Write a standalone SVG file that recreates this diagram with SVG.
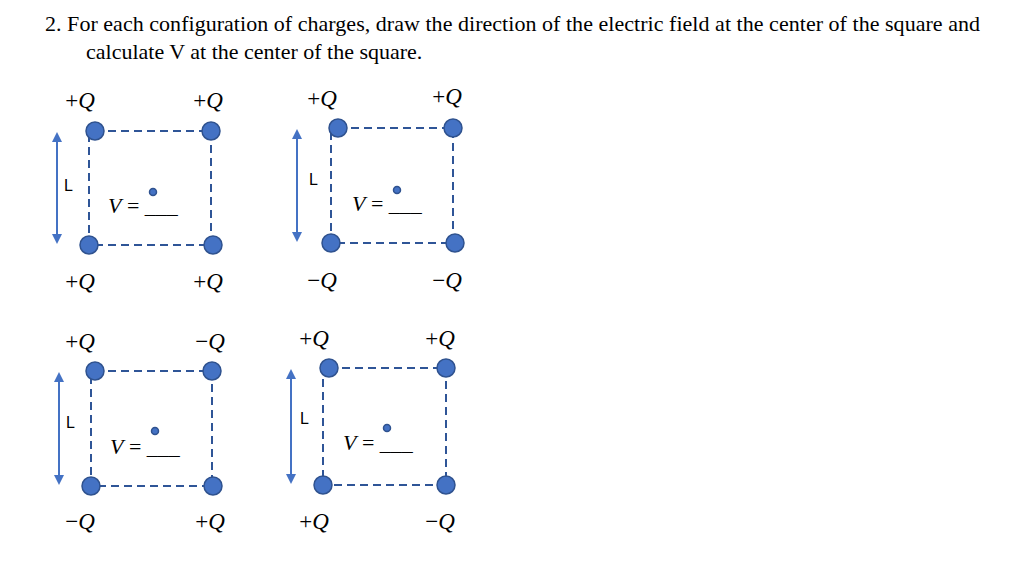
<svg xmlns="http://www.w3.org/2000/svg" width="1024" height="582" viewBox="0 0 1024 582">
<defs>
<style>
.t{font-family:"Liberation Serif",serif;font-size:22px;fill:#000}
.v{font-family:"Liberation Serif",serif;font-size:22px;fill:#000}
.q{font-family:"Liberation Serif",serif;font-size:23px;fill:#000;text-anchor:middle}
.l{font-family:"Liberation Sans",sans-serif;font-size:16px;fill:#000}
.d{stroke:#2F5597;stroke-width:2;stroke-dasharray:8,5;fill:none}
.c{fill:#4472C4;stroke:#2F528F;stroke-width:1.5}
.a{stroke:#4472C4;stroke-width:2;marker-start:url(#m);marker-end:url(#m)}
</style>
<marker id="m" viewBox="0 0 10 10" refX="5" refY="5" markerWidth="5" markerHeight="5" orient="auto-start-reverse"><path d="M0,0L10,5L0,10z" fill="#4472C4"/></marker>
</defs>
<rect width="1024" height="582" fill="#fff"/>
<text class="t" x="45" y="31" textLength="935">2.  For each configuration of charges, draw the direction of the electric field at the center of the square and</text>
<text class="t" x="86" y="59">calculate V at the center of the square.</text>
<g id="connectors">
<path class="d" d="M95,131H211V245H89V131"/>
<path class="d" d="M338,128H453V243H331V128"/>
<path class="d" d="M95,371H212V486H91V371"/>
<path class="d" d="M329,368H446V485H323V368"/>
<line class="a" x1="57" y1="137" x2="57" y2="239"/>
<line class="a" x1="297" y1="134" x2="297" y2="237"/>
<line class="a" x1="59" y1="377" x2="59" y2="480"/>
<line class="a" x1="291" y1="374" x2="291" y2="479"/>
</g>
<g id="panel1">
<circle class="c" cx="95" cy="131" r="9"/><circle class="c" cx="211" cy="131" r="9"/><circle class="c" cx="89" cy="245" r="9"/><circle class="c" cx="213" cy="245" r="9"/>
<circle class="c" cx="153" cy="192" r="3.5"/>
<text class="l" x="64" y="191">L</text>
<text class="q" x="80" y="108">+<tspan font-style="italic">Q</tspan></text><text class="q" x="208" y="108">+<tspan font-style="italic">Q</tspan></text>
<text class="q" x="80" y="289">+<tspan font-style="italic">Q</tspan></text><text class="q" x="208" y="289">+<tspan font-style="italic">Q</tspan></text>
<text class="v" x="108" y="213"><tspan font-style="italic">V</tspan> = ___</text>
</g>
<g id="panel2">
<circle class="c" cx="338" cy="128" r="9"/><circle class="c" cx="453" cy="128" r="9"/><circle class="c" cx="331" cy="243" r="9"/><circle class="c" cx="455" cy="243" r="9"/>
<circle class="c" cx="397" cy="190" r="3.5"/>
<text class="l" x="309" y="185">L</text>
<text class="q" x="322" y="106">+<tspan font-style="italic">Q</tspan></text><text class="q" x="447" y="104">+<tspan font-style="italic">Q</tspan></text>
<text class="q" x="322" y="288">−<tspan font-style="italic">Q</tspan></text><text class="q" x="447" y="288">−<tspan font-style="italic">Q</tspan></text>
<text class="v" x="352" y="211"><tspan font-style="italic">V</tspan> = ___</text>
</g>
<g id="panel3">
<circle class="c" cx="95" cy="371" r="9"/><circle class="c" cx="212" cy="371" r="9"/><circle class="c" cx="91" cy="486" r="9"/><circle class="c" cx="213" cy="486" r="9"/>
<circle class="c" cx="155" cy="431" r="3.5"/>
<text class="l" x="66" y="428">L</text>
<text class="q" x="80" y="349">+<tspan font-style="italic">Q</tspan></text><text class="q" x="210" y="349">−<tspan font-style="italic">Q</tspan></text>
<text class="q" x="80" y="529">−<tspan font-style="italic">Q</tspan></text><text class="q" x="210" y="529">+<tspan font-style="italic">Q</tspan></text>
<text class="v" x="110" y="454"><tspan font-style="italic">V</tspan> = ___</text>
</g>
<g id="panel4">
<circle class="c" cx="329" cy="368" r="9"/><circle class="c" cx="446" cy="368" r="9"/><circle class="c" cx="323" cy="485" r="9"/><circle class="c" cx="446" cy="485" r="9"/>
<circle class="c" cx="387" cy="428" r="3.5"/>
<text class="l" x="300" y="424">L</text>
<text class="q" x="314" y="346">+<tspan font-style="italic">Q</tspan></text><text class="q" x="440" y="346">+<tspan font-style="italic">Q</tspan></text>
<text class="q" x="314" y="529">+<tspan font-style="italic">Q</tspan></text><text class="q" x="440" y="529">−<tspan font-style="italic">Q</tspan></text>
<text class="v" x="343" y="450"><tspan font-style="italic">V</tspan> = ___</text>
</g>
</svg>
